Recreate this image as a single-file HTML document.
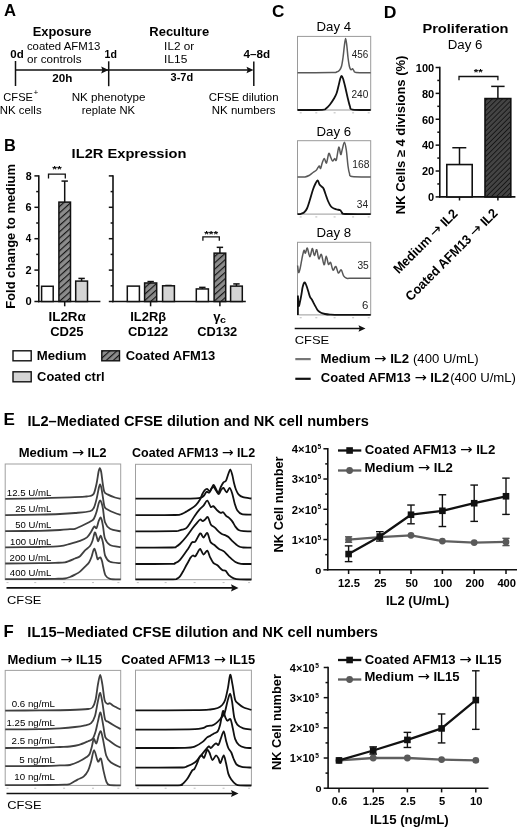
<!DOCTYPE html>
<html><head><meta charset="utf-8"><title>Figure</title>
<style>
html,body{margin:0;padding:0;background:#fff;}
svg{display:block;}
text{font-family:"Liberation Sans",Arial,Helvetica,sans-serif;}
</style></head>
<body>
<svg width="520" height="829" viewBox="0 0 520 829">
<rect x="0" y="0" width="520" height="829" fill="#fff"/>
<defs>
<pattern id="hB" patternUnits="userSpaceOnUse" width="4.7" height="4.7" patternTransform="rotate(48)">
<rect width="4.7" height="4.7" fill="#8c8c8c"/><line x1="0" y1="0" x2="0" y2="4.7" stroke="#151515" stroke-width="2.3"/></pattern>
<pattern id="hD" patternUnits="userSpaceOnUse" width="3.6" height="3.6" patternTransform="rotate(45)">
<rect width="3.6" height="3.6" fill="#444"/><line x1="0" y1="0" x2="0" y2="3.6" stroke="#0e0e0e" stroke-width="1.6"/></pattern>
</defs>
<text x="4.00" y="16.30" font-size="16" font-weight="bold" textLength="12.04" lengthAdjust="spacingAndGlyphs">A</text>
<text x="32.65" y="35.60" font-size="12.3" font-weight="bold" textLength="58.79" lengthAdjust="spacingAndGlyphs">Exposure</text>
<text x="26.92" y="50.00" font-size="11.3" textLength="73.47" lengthAdjust="spacingAndGlyphs">coated AFM13</text>
<text x="27.11" y="63.10" font-size="11.3" textLength="54.41" lengthAdjust="spacingAndGlyphs">or controls</text>
<text x="10.35" y="57.70" font-size="11" font-weight="bold" textLength="13.41" lengthAdjust="spacingAndGlyphs">0d</text>
<text x="104.54" y="57.50" font-size="11" font-weight="bold" textLength="12.36" lengthAdjust="spacingAndGlyphs">1d</text>
<text x="149.34" y="35.50" font-size="12.3" font-weight="bold" textLength="59.80" lengthAdjust="spacingAndGlyphs">Reculture</text>
<text x="164.12" y="49.60" font-size="11.3" textLength="30.07" lengthAdjust="spacingAndGlyphs">IL2 or</text>
<text x="164.10" y="62.80" font-size="11.3" textLength="23.19" lengthAdjust="spacingAndGlyphs">IL15</text>
<text x="243.53" y="57.50" font-size="11" font-weight="bold" textLength="26.55" lengthAdjust="spacingAndGlyphs">4–8d</text>
<text x="52.30" y="81.80" font-size="11" font-weight="bold" textLength="20.12" lengthAdjust="spacingAndGlyphs">20h</text>
<text x="170.56" y="80.60" font-size="11" font-weight="bold" textLength="22.57" lengthAdjust="spacingAndGlyphs">3-7d</text>
<text x="3.34" y="100.80" font-size="11.3" textLength="29.62" lengthAdjust="spacingAndGlyphs">CFSE</text>
<text x="33.41" y="95.00" font-size="7" textLength="4.80" lengthAdjust="spacingAndGlyphs">+</text>
<text x="-0.24" y="114.00" font-size="11.3" textLength="41.84" lengthAdjust="spacingAndGlyphs">NK cells</text>
<text x="71.65" y="100.80" font-size="11.3" textLength="73.77" lengthAdjust="spacingAndGlyphs">NK phenotype</text>
<text x="81.86" y="114.00" font-size="11.3" textLength="53.16" lengthAdjust="spacingAndGlyphs">replate NK</text>
<text x="208.73" y="100.50" font-size="11.3" textLength="69.80" lengthAdjust="spacingAndGlyphs">CFSE dilution</text>
<text x="211.76" y="113.90" font-size="11.3" textLength="63.85" lengthAdjust="spacingAndGlyphs">NK numbers</text>
<line x1="15.50" y1="70.00" x2="250.00" y2="70.00" stroke="#111" stroke-width="1.5"/>
<path d="M108.60,70.00 L101.20,66.60 L102.40,70.00 L101.20,73.40 Z" fill="#111"/>
<path d="M253.50,70.00 L246.50,66.70 L247.70,70.00 L246.50,73.30 Z" fill="#111"/>
<line x1="15.50" y1="61.00" x2="15.50" y2="86.00" stroke="#111" stroke-width="1.5"/>
<line x1="108.70" y1="61.30" x2="108.70" y2="86.20" stroke="#111" stroke-width="1.5"/>
<line x1="253.80" y1="61.50" x2="253.80" y2="86.00" stroke="#111" stroke-width="1.5"/>
<text x="3.92" y="151.30" font-size="16" font-weight="bold" textLength="11.82" lengthAdjust="spacingAndGlyphs">B</text>
<text x="71.63" y="158.30" font-size="12.5" font-weight="bold" textLength="114.88" lengthAdjust="spacingAndGlyphs">IL2R Expression</text>
<line x1="38.80" y1="175.20" x2="38.80" y2="302.20" stroke="#111" stroke-width="1.6"/>
<line x1="38.00" y1="301.50" x2="100.40" y2="301.50" stroke="#111" stroke-width="1.6"/>
<line x1="34.40" y1="301.50" x2="38.80" y2="301.50" stroke="#111" stroke-width="1.5"/>
<text x="25.57" y="305.10" font-size="10.4" font-weight="bold" textLength="6.18" lengthAdjust="spacingAndGlyphs">0</text>
<line x1="36.20" y1="285.80" x2="38.80" y2="285.80" stroke="#111" stroke-width="1.5"/>
<line x1="34.40" y1="270.10" x2="38.80" y2="270.10" stroke="#111" stroke-width="1.5"/>
<text x="25.63" y="273.70" font-size="10.4" font-weight="bold" textLength="6.10" lengthAdjust="spacingAndGlyphs">2</text>
<line x1="36.20" y1="254.40" x2="38.80" y2="254.40" stroke="#111" stroke-width="1.5"/>
<line x1="34.40" y1="238.70" x2="38.80" y2="238.70" stroke="#111" stroke-width="1.5"/>
<text x="25.85" y="242.30" font-size="10.4" font-weight="bold" textLength="5.50" lengthAdjust="spacingAndGlyphs">4</text>
<line x1="36.20" y1="223.00" x2="38.80" y2="223.00" stroke="#111" stroke-width="1.5"/>
<line x1="34.40" y1="207.30" x2="38.80" y2="207.30" stroke="#111" stroke-width="1.5"/>
<text x="25.61" y="210.90" font-size="10.4" font-weight="bold" textLength="6.08" lengthAdjust="spacingAndGlyphs">6</text>
<line x1="36.20" y1="191.60" x2="38.80" y2="191.60" stroke="#111" stroke-width="1.5"/>
<line x1="34.40" y1="175.90" x2="38.80" y2="175.90" stroke="#111" stroke-width="1.5"/>
<text x="25.67" y="179.50" font-size="10.4" font-weight="bold" textLength="5.95" lengthAdjust="spacingAndGlyphs">8</text>
<line x1="113.00" y1="175.20" x2="113.00" y2="302.20" stroke="#111" stroke-width="1.6"/>
<line x1="112.20" y1="301.50" x2="245.80" y2="301.50" stroke="#111" stroke-width="1.6"/>
<line x1="108.80" y1="301.50" x2="113.00" y2="301.50" stroke="#111" stroke-width="1.5"/>
<line x1="110.60" y1="285.80" x2="113.00" y2="285.80" stroke="#111" stroke-width="1.5"/>
<line x1="108.80" y1="270.10" x2="113.00" y2="270.10" stroke="#111" stroke-width="1.5"/>
<line x1="110.60" y1="254.40" x2="113.00" y2="254.40" stroke="#111" stroke-width="1.5"/>
<line x1="108.80" y1="238.70" x2="113.00" y2="238.70" stroke="#111" stroke-width="1.5"/>
<line x1="110.60" y1="223.00" x2="113.00" y2="223.00" stroke="#111" stroke-width="1.5"/>
<line x1="108.80" y1="207.30" x2="113.00" y2="207.30" stroke="#111" stroke-width="1.5"/>
<line x1="110.60" y1="191.60" x2="113.00" y2="191.60" stroke="#111" stroke-width="1.5"/>
<line x1="108.80" y1="175.90" x2="113.00" y2="175.90" stroke="#111" stroke-width="1.5"/>
<rect x="41.60" y="286.27" width="11.60" height="15.23" fill="#fff" stroke="#111" stroke-width="1.5"/>
<line x1="64.70" y1="202.12" x2="64.70" y2="181.08" stroke="#111" stroke-width="1.5"/>
<line x1="61.50" y1="181.08" x2="67.90" y2="181.08" stroke="#111" stroke-width="1.5"/>
<rect x="58.90" y="202.12" width="11.60" height="99.38" fill="url(#hB)" stroke="#111" stroke-width="1.5"/>
<line x1="81.60" y1="281.09" x2="81.60" y2="278.42" stroke="#111" stroke-width="1.5"/>
<line x1="78.40" y1="278.42" x2="84.80" y2="278.42" stroke="#111" stroke-width="1.5"/>
<rect x="75.70" y="281.09" width="11.80" height="20.41" fill="#d4d4d4" stroke="#111" stroke-width="1.5"/>
<rect x="127.30" y="286.11" width="12.10" height="15.39" fill="#fff" stroke="#111" stroke-width="1.5"/>
<line x1="150.65" y1="282.97" x2="150.65" y2="281.56" stroke="#111" stroke-width="1.5"/>
<line x1="147.45" y1="281.56" x2="153.85" y2="281.56" stroke="#111" stroke-width="1.5"/>
<rect x="144.60" y="282.97" width="12.10" height="18.53" fill="url(#hB)" stroke="#111" stroke-width="1.5"/>
<line x1="168.50" y1="285.80" x2="168.50" y2="285.49" stroke="#111" stroke-width="1.5"/>
<line x1="165.30" y1="285.49" x2="171.70" y2="285.49" stroke="#111" stroke-width="1.5"/>
<rect x="162.60" y="285.80" width="11.80" height="15.70" fill="#d4d4d4" stroke="#111" stroke-width="1.5"/>
<line x1="202.35" y1="288.94" x2="202.35" y2="287.37" stroke="#111" stroke-width="1.5"/>
<line x1="199.15" y1="287.37" x2="205.55" y2="287.37" stroke="#111" stroke-width="1.5"/>
<rect x="196.30" y="288.94" width="12.10" height="12.56" fill="#fff" stroke="#111" stroke-width="1.5"/>
<line x1="219.90" y1="253.14" x2="219.90" y2="247.34" stroke="#111" stroke-width="1.5"/>
<line x1="216.70" y1="247.34" x2="223.10" y2="247.34" stroke="#111" stroke-width="1.5"/>
<rect x="214.10" y="253.14" width="11.60" height="48.36" fill="url(#hB)" stroke="#111" stroke-width="1.5"/>
<line x1="236.45" y1="286.11" x2="236.45" y2="283.92" stroke="#111" stroke-width="1.5"/>
<line x1="233.25" y1="283.92" x2="239.65" y2="283.92" stroke="#111" stroke-width="1.5"/>
<rect x="230.60" y="286.11" width="11.70" height="15.39" fill="#d4d4d4" stroke="#111" stroke-width="1.5"/>
<line x1="64.70" y1="301.50" x2="64.70" y2="306.30" stroke="#111" stroke-width="1.5"/>
<line x1="150.60" y1="301.50" x2="150.60" y2="306.30" stroke="#111" stroke-width="1.5"/>
<line x1="219.90" y1="301.50" x2="219.90" y2="306.30" stroke="#111" stroke-width="1.5"/>
<path d="M48.5,178.6 L48.5,174.2 L65.3,174.2 L65.3,178.6" stroke="#111" stroke-width="1.3" fill="none"/>
<text x="52.23" y="172.00" font-size="9" font-weight="bold" textLength="9.53" lengthAdjust="spacingAndGlyphs">**</text>
<path d="M202.9,240.8 L202.9,236.9 L219.3,236.9 L219.3,240.8" stroke="#111" stroke-width="1.3" fill="none"/>
<text x="204.18" y="237.20" font-size="9" font-weight="bold" textLength="14.03" lengthAdjust="spacingAndGlyphs">***</text>
<text x="48.52" y="320.80" font-size="12.0" font-weight="bold" textLength="37.21" lengthAdjust="spacingAndGlyphs">IL2Rα</text>
<text x="50.16" y="336.20" font-size="12.0" font-weight="bold" textLength="33.38" lengthAdjust="spacingAndGlyphs">CD25</text>
<text x="130.25" y="320.80" font-size="12.0" font-weight="bold" textLength="35.88" lengthAdjust="spacingAndGlyphs">IL2Rβ</text>
<text x="127.97" y="336.20" font-size="12.0" font-weight="bold" textLength="40.23" lengthAdjust="spacingAndGlyphs">CD122</text>
<text x="213.26" y="320.80" font-size="12.0" font-weight="bold" textLength="7.28" lengthAdjust="spacingAndGlyphs">γ</text>
<text x="220.08" y="322.60" font-size="9.0" font-weight="bold" textLength="5.93" lengthAdjust="spacingAndGlyphs">c</text>
<text x="197.17" y="336.20" font-size="12.0" font-weight="bold" textLength="40.03" lengthAdjust="spacingAndGlyphs">CD132</text>
<g transform="translate(10.60,236.40) rotate(-90)"><text x="0" y="4.37" font-size="12.2" text-anchor="middle" font-weight="bold" textLength="144.50" lengthAdjust="spacingAndGlyphs">Fold change to medium</text></g>
<rect x="13.00" y="350.80" width="18.20" height="10.00" fill="#fff" stroke="#111" stroke-width="1.4"/>
<text x="36.73" y="360.00" font-size="12.2" font-weight="bold" textLength="49.67" lengthAdjust="spacingAndGlyphs">Medium</text>
<rect x="101.80" y="350.80" width="17.70" height="10.00" fill="url(#hB)" stroke="#111" stroke-width="1.4"/>
<text x="125.77" y="360.00" font-size="12.2" font-weight="bold" textLength="89.49" lengthAdjust="spacingAndGlyphs">Coated AFM13</text>
<rect x="13.00" y="371.80" width="18.20" height="10.00" fill="#d4d4d4" stroke="#111" stroke-width="1.4"/>
<text x="37.07" y="380.80" font-size="12.2" font-weight="bold" textLength="67.44" lengthAdjust="spacingAndGlyphs">Coated ctrl</text>
<text x="271.90" y="17.40" font-size="16" font-weight="bold" textLength="12.37" lengthAdjust="spacingAndGlyphs">C</text>
<text x="316.52" y="30.80" font-size="12.8" textLength="34.47" lengthAdjust="spacingAndGlyphs">Day 4</text>
<rect x="297.50" y="36.40" width="73.20" height="73.60" fill="none" stroke="#9a9a9a" stroke-width="1.0"/>
<rect x="299.70" y="112.20" width="2.00" height="1.20" fill="#c8c8c8" stroke="none" stroke-width="0"/>
<rect x="315.30" y="112.20" width="2.00" height="1.20" fill="#c8c8c8" stroke="none" stroke-width="0"/>
<rect x="333.60" y="112.20" width="2.00" height="1.20" fill="#c8c8c8" stroke="none" stroke-width="0"/>
<rect x="352.10" y="112.20" width="2.00" height="1.20" fill="#c8c8c8" stroke="none" stroke-width="0"/>
<rect x="367.70" y="112.20" width="2.00" height="1.20" fill="#c8c8c8" stroke="none" stroke-width="0"/>
<text x="351.78" y="57.70" font-size="10.6" fill="#222" textLength="16.55" lengthAdjust="spacingAndGlyphs">456</text>
<text x="351.50" y="97.50" font-size="10.6" fill="#222" textLength="16.79" lengthAdjust="spacingAndGlyphs">240</text>
<text x="316.51" y="135.90" font-size="12.8" textLength="34.66" lengthAdjust="spacingAndGlyphs">Day 6</text>
<rect x="297.50" y="140.70" width="73.20" height="73.40" fill="none" stroke="#9a9a9a" stroke-width="1.0"/>
<rect x="299.70" y="216.30" width="2.00" height="1.20" fill="#c8c8c8" stroke="none" stroke-width="0"/>
<rect x="315.30" y="216.30" width="2.00" height="1.20" fill="#c8c8c8" stroke="none" stroke-width="0"/>
<rect x="333.60" y="216.30" width="2.00" height="1.20" fill="#c8c8c8" stroke="none" stroke-width="0"/>
<rect x="352.10" y="216.30" width="2.00" height="1.20" fill="#c8c8c8" stroke="none" stroke-width="0"/>
<rect x="367.70" y="216.30" width="2.00" height="1.20" fill="#c8c8c8" stroke="none" stroke-width="0"/>
<text x="352.22" y="168.20" font-size="10.6" fill="#222" textLength="17.13" lengthAdjust="spacingAndGlyphs">168</text>
<text x="356.81" y="207.80" font-size="10.6" fill="#222" textLength="11.28" lengthAdjust="spacingAndGlyphs">34</text>
<text x="316.51" y="236.60" font-size="12.8" textLength="34.66" lengthAdjust="spacingAndGlyphs">Day 8</text>
<rect x="297.50" y="242.30" width="73.20" height="72.60" fill="none" stroke="#9a9a9a" stroke-width="1.0"/>
<rect x="299.70" y="317.10" width="2.00" height="1.20" fill="#c8c8c8" stroke="none" stroke-width="0"/>
<rect x="315.30" y="317.10" width="2.00" height="1.20" fill="#c8c8c8" stroke="none" stroke-width="0"/>
<rect x="333.60" y="317.10" width="2.00" height="1.20" fill="#c8c8c8" stroke="none" stroke-width="0"/>
<rect x="352.10" y="317.10" width="2.00" height="1.20" fill="#c8c8c8" stroke="none" stroke-width="0"/>
<rect x="367.70" y="317.10" width="2.00" height="1.20" fill="#c8c8c8" stroke="none" stroke-width="0"/>
<text x="357.41" y="269.00" font-size="10.6" fill="#222" textLength="11.41" lengthAdjust="spacingAndGlyphs">35</text>
<text x="361.93" y="308.60" font-size="10.6" fill="#222" textLength="6.37" lengthAdjust="spacingAndGlyphs">6</text>
<path d="M297.50,72.70 C303.25,72.68 325.50,72.72 332.00,72.60 C338.50,72.48 335.25,72.40 336.50,72.00 C337.75,71.60 338.65,71.20 339.50,70.20 C340.35,69.20 341.00,68.20 341.60,66.00 C342.20,63.80 342.63,60.42 343.10,57.00 C343.57,53.58 343.98,48.60 344.40,45.50 C344.82,42.40 345.20,38.40 345.60,38.40 C346.00,38.40 346.40,42.32 346.80,45.50 C347.20,48.68 347.58,54.08 348.00,57.50 C348.42,60.92 348.88,64.03 349.30,66.00 C349.72,67.97 350.12,68.72 350.50,69.30 C350.88,69.88 351.25,69.60 351.60,69.50 C351.95,69.40 352.23,68.52 352.60,68.70 C352.97,68.88 353.23,69.98 353.80,70.60 C354.37,71.22 353.18,72.05 356.00,72.40 C358.82,72.75 368.25,72.65 370.70,72.70" stroke="#585858" stroke-width="1.5" fill="none"/>
<path d="M297.50,110.00 C301.58,109.97 317.25,110.05 322.00,109.80 C326.75,109.55 324.67,109.38 326.00,108.50 C327.33,107.62 328.67,106.17 330.00,104.50 C331.33,102.83 332.92,100.33 334.00,98.50 C335.08,96.67 335.75,95.58 336.50,93.50 C337.25,91.42 337.87,88.50 338.50,86.00 C339.13,83.50 339.80,80.17 340.30,78.50 C340.80,76.83 341.05,76.00 341.50,76.00 C341.95,76.00 342.42,76.83 343.00,78.50 C343.58,80.17 344.25,82.92 345.00,86.00 C345.75,89.08 346.67,93.58 347.50,97.00 C348.33,100.42 349.17,104.40 350.00,106.50 C350.83,108.60 349.05,109.02 352.50,109.60 C355.95,110.18 367.67,109.93 370.70,110.00" stroke="#111" stroke-width="1.8" fill="none"/>
<path d="M297.50,177.10 C298.75,177.07 303.08,177.17 305.00,176.90 C306.92,176.63 307.67,176.23 309.00,175.50 C310.33,174.77 311.83,173.33 313.00,172.50 C314.17,171.67 315.17,171.33 316.00,170.50 C316.83,169.67 317.45,168.25 318.00,167.50 C318.55,166.75 318.87,165.83 319.30,166.00 C319.73,166.17 320.12,169.00 320.60,168.50 C321.08,168.00 321.58,164.67 322.20,163.00 C322.82,161.33 323.58,158.50 324.30,158.50 C325.02,158.50 325.75,163.83 326.50,163.00 C327.25,162.17 328.08,154.42 328.80,153.50 C329.52,152.58 330.17,156.25 330.80,157.50 C331.43,158.75 331.97,160.82 332.60,161.00 C333.23,161.18 333.98,158.77 334.60,158.60 C335.22,158.43 335.60,161.90 336.30,160.00 C337.00,158.10 338.07,148.12 338.80,147.20 C339.53,146.28 340.17,153.95 340.70,154.50 C341.23,155.05 341.38,152.53 342.00,150.50 C342.62,148.47 343.68,142.38 344.40,142.30 C345.12,142.22 345.70,146.05 346.30,150.00 C346.90,153.95 347.47,162.08 348.00,166.00 C348.53,169.92 348.83,171.73 349.50,173.50 C350.17,175.27 348.47,176.00 352.00,176.60 C355.53,177.20 367.58,177.02 370.70,177.10" stroke="#585858" stroke-width="1.5" fill="none"/>
<path d="M297.50,214.10 C298.08,214.05 299.92,214.07 301.00,213.80 C302.08,213.53 303.00,213.38 304.00,212.50 C305.00,211.62 306.00,210.67 307.00,208.50 C308.00,206.33 309.00,202.67 310.00,199.50 C311.00,196.33 312.08,192.17 313.00,189.50 C313.92,186.83 314.73,185.03 315.50,183.50 C316.27,181.97 316.93,180.13 317.60,180.30 C318.27,180.47 318.85,183.47 319.50,184.50 C320.15,185.53 320.83,185.83 321.50,186.50 C322.17,187.17 322.83,187.25 323.50,188.50 C324.17,189.75 324.75,191.92 325.50,194.00 C326.25,196.08 327.08,198.92 328.00,201.00 C328.92,203.08 330.00,205.25 331.00,206.50 C332.00,207.75 333.00,208.00 334.00,208.50 C335.00,209.00 335.97,209.20 337.00,209.50 C338.03,209.80 339.33,209.75 340.20,210.30 C341.07,210.85 341.40,212.18 342.20,212.80 C343.00,213.42 340.25,213.78 345.00,214.00 C349.75,214.22 366.42,214.08 370.70,214.10" stroke="#111" stroke-width="1.8" fill="none"/>
<path d="M297.60,265.50 C297.77,266.67 298.20,271.92 298.60,272.50 C299.00,273.08 299.52,270.88 300.00,269.00 C300.48,267.12 301.07,263.45 301.50,261.20 C301.93,258.95 302.18,257.32 302.60,255.50 C303.02,253.68 303.53,250.68 304.00,250.30 C304.47,249.92 304.85,253.55 305.40,253.20 C305.95,252.85 306.55,247.60 307.30,248.20 C308.05,248.80 309.07,256.75 309.90,256.80 C310.73,256.85 311.55,248.72 312.30,248.50 C313.05,248.28 313.67,255.30 314.40,255.50 C315.13,255.70 315.97,249.15 316.70,249.70 C317.43,250.25 318.02,258.00 318.80,258.80 C319.58,259.60 320.52,253.50 321.40,254.50 C322.28,255.50 323.30,264.52 324.10,264.80 C324.90,265.08 325.48,256.30 326.20,256.20 C326.92,256.10 327.67,263.15 328.40,264.20 C329.13,265.25 329.83,261.50 330.60,262.50 C331.37,263.50 332.13,269.53 333.00,270.20 C333.87,270.87 334.90,266.03 335.80,266.50 C336.70,266.97 337.50,272.45 338.40,273.00 C339.30,273.55 340.33,269.33 341.20,269.80 C342.07,270.27 342.70,274.40 343.60,275.80 C344.50,277.20 345.53,277.78 346.60,278.20 C347.67,278.62 345.98,278.28 350.00,278.30 C354.02,278.32 367.25,278.30 370.70,278.30" stroke="#585858" stroke-width="1.5" fill="none"/>
<path d="M297.9,314.9 L297.9,295.5 C298.03,297.22 298.35,304.75 298.70,305.80 C299.05,306.85 299.53,303.77 300.00,301.80 C300.47,299.83 301.07,296.42 301.50,294.00 C301.93,291.58 302.15,289.20 302.60,287.30 C303.05,285.40 303.70,283.22 304.20,282.60 C304.70,281.98 305.13,282.82 305.60,283.60 C306.07,284.38 306.52,285.88 307.00,287.30 C307.48,288.72 308.00,290.52 308.50,292.10 C309.00,293.68 309.42,295.52 310.00,296.80 C310.58,298.08 311.33,298.65 312.00,299.80 C312.67,300.95 313.33,302.43 314.00,303.70 C314.67,304.97 315.33,306.25 316.00,307.40 C316.67,308.55 317.17,309.70 318.00,310.60 C318.83,311.50 319.83,312.23 321.00,312.80 C322.17,313.37 323.50,313.70 325.00,314.00 C326.50,314.30 327.50,314.45 330.00,314.60 C332.50,314.75 333.22,314.85 340.00,314.90 C346.78,314.95 365.58,314.90 370.70,314.90" stroke="#111" stroke-width="1.8" fill="none"/>
<line x1="294.70" y1="328.50" x2="360.00" y2="328.50" stroke="#111" stroke-width="1.5"/>
<path d="M365.50,328.50 L358.50,325.20 L359.70,328.50 L358.50,331.80 Z" fill="#111"/>
<text x="294.65" y="343.80" font-size="11.8" textLength="34.59" lengthAdjust="spacingAndGlyphs">CFSE</text>
<line x1="295.30" y1="359.10" x2="310.70" y2="359.10" stroke="#777" stroke-width="2.2"/>
<text x="320.53" y="363.00" font-size="12.2" font-weight="bold" textLength="88.68" lengthAdjust="spacingAndGlyphs">Medium <tspan font-family="DejaVu Sans" font-weight="normal" font-size="13.66">→</tspan> IL2</text>
<text x="412.99" y="362.80" font-size="12.2" textLength="65.63" lengthAdjust="spacingAndGlyphs">(400 U/mL)</text>
<line x1="295.30" y1="378.80" x2="310.70" y2="378.80" stroke="#111" stroke-width="2.2"/>
<text x="320.87" y="382.40" font-size="12.2" font-weight="bold" textLength="128.34" lengthAdjust="spacingAndGlyphs">Coated AFM13 <tspan font-family="DejaVu Sans" font-weight="normal" font-size="13.66">→</tspan> IL2</text>
<text x="450.18" y="382.40" font-size="12.2" textLength="65.84" lengthAdjust="spacingAndGlyphs">(400 U/mL)</text>
<text x="383.74" y="18.00" font-size="16" font-weight="bold" textLength="12.68" lengthAdjust="spacingAndGlyphs">D</text>
<text x="422.44" y="33.00" font-size="13.7" font-weight="bold" textLength="86.07" lengthAdjust="spacingAndGlyphs">Proliferation</text>
<text x="447.81" y="48.80" font-size="12.0" textLength="34.66" lengthAdjust="spacingAndGlyphs">Day 6</text>
<line x1="439.80" y1="66.80" x2="439.80" y2="197.60" stroke="#111" stroke-width="1.6"/>
<line x1="439.00" y1="196.90" x2="515.40" y2="196.90" stroke="#111" stroke-width="1.6"/>
<line x1="435.60" y1="196.90" x2="439.80" y2="196.90" stroke="#111" stroke-width="1.5"/>
<text x="428.02" y="201.20" font-size="11.0" font-weight="bold">0</text>
<line x1="437.30" y1="183.96" x2="439.80" y2="183.96" stroke="#111" stroke-width="1.5"/>
<line x1="435.60" y1="171.02" x2="439.80" y2="171.02" stroke="#111" stroke-width="1.5"/>
<text x="421.91" y="175.32" font-size="11.0" font-weight="bold">20</text>
<line x1="437.30" y1="158.08" x2="439.80" y2="158.08" stroke="#111" stroke-width="1.5"/>
<line x1="435.60" y1="145.14" x2="439.80" y2="145.14" stroke="#111" stroke-width="1.5"/>
<text x="421.91" y="149.44" font-size="11.0" font-weight="bold">40</text>
<line x1="437.30" y1="132.20" x2="439.80" y2="132.20" stroke="#111" stroke-width="1.5"/>
<line x1="435.60" y1="119.26" x2="439.80" y2="119.26" stroke="#111" stroke-width="1.5"/>
<text x="421.91" y="123.56" font-size="11.0" font-weight="bold">60</text>
<line x1="437.30" y1="106.32" x2="439.80" y2="106.32" stroke="#111" stroke-width="1.5"/>
<line x1="435.60" y1="93.38" x2="439.80" y2="93.38" stroke="#111" stroke-width="1.5"/>
<text x="421.91" y="97.68" font-size="11.0" font-weight="bold">80</text>
<line x1="437.30" y1="80.44" x2="439.80" y2="80.44" stroke="#111" stroke-width="1.5"/>
<line x1="435.60" y1="67.50" x2="439.80" y2="67.50" stroke="#111" stroke-width="1.5"/>
<text x="415.79" y="71.80" font-size="11.0" font-weight="bold">100</text>
<line x1="459.50" y1="164.55" x2="459.50" y2="147.73" stroke="#111" stroke-width="1.5"/>
<line x1="452.30" y1="147.73" x2="466.30" y2="147.73" stroke="#111" stroke-width="1.5"/>
<rect x="446.80" y="164.55" width="25.40" height="32.35" fill="#fff" stroke="#111" stroke-width="1.6"/>
<line x1="497.90" y1="98.56" x2="497.90" y2="86.39" stroke="#111" stroke-width="1.5"/>
<line x1="491.20" y1="86.39" x2="504.60" y2="86.39" stroke="#111" stroke-width="1.5"/>
<rect x="485.00" y="98.56" width="25.80" height="98.34" fill="url(#hD)" stroke="#111" stroke-width="1.6"/>
<line x1="459.50" y1="196.90" x2="459.50" y2="200.50" stroke="#111" stroke-width="1.5"/>
<line x1="497.90" y1="196.90" x2="497.90" y2="200.50" stroke="#111" stroke-width="1.5"/>
<path d="M459,80.2 L459,76.5 L497.9,76.5 L497.9,80.2" stroke="#111" stroke-width="1.3" fill="none"/>
<text x="473.68" y="74.60" font-size="9" font-weight="bold" textLength="9.03" lengthAdjust="spacingAndGlyphs">**</text>
<g transform="translate(400.60,134.90) rotate(-90)"><text x="0" y="4.58" font-size="12.8" text-anchor="middle" font-weight="bold" textLength="158.50" lengthAdjust="spacingAndGlyphs">NK Cells ≥ 4 divisions (%)</text></g>
<g transform="translate(458.5,214.5) rotate(-45)"><text x="0" y="0" font-size="13.2" font-weight="bold" text-anchor="end" textLength="84.67" lengthAdjust="spacingAndGlyphs">Medium <tspan font-family="DejaVu Sans" font-weight="normal" font-size="14.78">→</tspan> IL2</text></g>
<g transform="translate(498.5,214.0) rotate(-45)"><text x="0" y="0" font-size="13.2" font-weight="bold" text-anchor="end" textLength="124.13" lengthAdjust="spacingAndGlyphs">Coated AFM13 <tspan font-family="DejaVu Sans" font-weight="normal" font-size="14.78">→</tspan> IL2</text></g>
<text x="3.57" y="425.30" font-size="16.6" font-weight="bold" textLength="11.39" lengthAdjust="spacingAndGlyphs">E</text>
<text x="27.44" y="426.10" font-size="14.2" font-weight="bold" textLength="341.35" lengthAdjust="spacingAndGlyphs">IL2–Mediated CFSE dilution and NK cell numbers</text>
<text x="18.74" y="457.00" font-size="12.0" font-weight="bold" textLength="87.67" lengthAdjust="spacingAndGlyphs">Medium <tspan font-family="DejaVu Sans" font-weight="normal" font-size="13.44">→</tspan> IL2</text>
<text x="132.09" y="457.00" font-size="12.0" font-weight="bold" textLength="122.99" lengthAdjust="spacingAndGlyphs">Coated AFM13 <tspan font-family="DejaVu Sans" font-weight="normal" font-size="13.44">→</tspan> IL2</text>
<rect x="5.20" y="464.00" width="115.50" height="115.70" fill="none" stroke="#a0a0a0" stroke-width="1.0"/>
<rect x="6.51" y="582.00" width="2.00" height="1.10" fill="#c8c8c8" stroke="none" stroke-width="0"/>
<rect x="34.23" y="582.00" width="2.00" height="1.10" fill="#c8c8c8" stroke="none" stroke-width="0"/>
<rect x="63.11" y="582.00" width="2.00" height="1.10" fill="#c8c8c8" stroke="none" stroke-width="0"/>
<rect x="91.98" y="582.00" width="2.00" height="1.10" fill="#c8c8c8" stroke="none" stroke-width="0"/>
<rect x="117.39" y="582.00" width="2.00" height="1.10" fill="#c8c8c8" stroke="none" stroke-width="0"/>
<rect x="135.50" y="464.30" width="115.90" height="115.40" fill="none" stroke="#a0a0a0" stroke-width="1.0"/>
<rect x="136.82" y="582.00" width="2.00" height="1.10" fill="#c8c8c8" stroke="none" stroke-width="0"/>
<rect x="164.63" y="582.00" width="2.00" height="1.10" fill="#c8c8c8" stroke="none" stroke-width="0"/>
<rect x="193.61" y="582.00" width="2.00" height="1.10" fill="#c8c8c8" stroke="none" stroke-width="0"/>
<rect x="222.58" y="582.00" width="2.00" height="1.10" fill="#c8c8c8" stroke="none" stroke-width="0"/>
<rect x="248.08" y="582.00" width="2.00" height="1.10" fill="#c8c8c8" stroke="none" stroke-width="0"/>
<text x="6.76" y="495.90" font-size="9.4" fill="#000" textLength="44.66" lengthAdjust="spacingAndGlyphs">12.5 U/mL</text>
<text x="15.22" y="511.90" font-size="9.4" fill="#000" textLength="36.20" lengthAdjust="spacingAndGlyphs">25 U/mL</text>
<text x="15.32" y="528.30" font-size="9.4" fill="#000" textLength="36.10" lengthAdjust="spacingAndGlyphs">50 U/mL</text>
<text x="10.08" y="544.70" font-size="9.4" fill="#000" textLength="41.34" lengthAdjust="spacingAndGlyphs">100 U/mL</text>
<text x="9.62" y="560.70" font-size="9.4" fill="#000" textLength="41.80" lengthAdjust="spacingAndGlyphs">200 U/mL</text>
<text x="9.89" y="575.60" font-size="9.4" fill="#000" textLength="41.53" lengthAdjust="spacingAndGlyphs">400 U/mL</text>
<path d="M5.20,498.90 C10.42,498.81 30.28,498.54 40.00,498.30 C49.72,498.06 63.25,497.56 70.00,497.30 C76.75,497.05 82.00,496.80 85.00,496.60 C88.00,496.41 88.69,496.44 90.00,496.00 C91.31,495.56 92.78,495.50 93.75,493.70 C94.72,491.90 95.79,487.25 96.50,484.00 C97.21,480.75 98.01,474.38 98.50,472.00 C98.99,469.62 99.34,468.10 99.75,468.10 C100.16,468.10 100.74,469.62 101.20,472.00 C101.66,474.38 102.32,481.01 102.80,484.00 C103.28,486.99 103.70,490.34 104.40,491.90 C105.11,493.46 105.91,493.56 107.50,494.40 C109.09,495.24 113.02,496.85 115.00,497.50 C116.98,498.15 119.84,498.56 120.70,498.75" stroke="#404040" stroke-width="1.8" fill="none" stroke-linejoin="round"/>
<path d="M5.20,515.10 C10.42,515.02 31.78,514.76 40.00,514.60 C48.22,514.44 54.75,514.24 60.00,514.00 C65.25,513.76 70.50,513.41 75.00,513.00 C79.50,512.59 87.15,512.08 90.00,511.25 C92.85,510.43 92.98,509.49 94.00,507.50 C95.02,505.51 96.08,500.93 96.80,498.00 C97.52,495.07 98.32,490.04 98.80,488.00 C99.28,485.96 99.61,484.40 100.00,484.40 C100.39,484.40 100.95,485.96 101.40,488.00 C101.85,490.04 102.52,495.17 103.00,498.00 C103.48,500.83 103.92,505.17 104.60,506.90 C105.27,508.62 105.94,508.58 107.50,509.50 C109.06,510.42 113.02,512.21 115.00,513.00 C116.98,513.79 119.84,514.53 120.70,514.80" stroke="#404040" stroke-width="1.8" fill="none" stroke-linejoin="round"/>
<path d="M5.20,531.20 C10.42,531.14 31.78,530.98 40.00,530.80 C48.22,530.62 55.50,530.24 60.00,530.00 C64.50,529.76 67.75,529.38 70.00,529.20 C72.25,529.02 72.75,529.53 75.00,528.80 C77.25,528.06 82.45,525.54 85.00,524.30 C87.55,523.05 90.65,521.37 92.00,520.50 C93.35,519.63 93.33,519.77 94.00,518.50 C94.67,517.23 95.78,514.33 96.50,512.00 C97.22,509.68 98.24,504.74 98.80,503.00 C99.36,501.26 99.78,500.40 100.20,500.40 C100.62,500.40 101.18,501.71 101.60,503.00 C102.02,504.29 102.49,506.12 103.00,509.00 C103.51,511.88 103.95,519.25 105.00,522.20 C106.05,525.16 107.64,527.32 110.00,528.70 C112.36,530.08 119.09,531.00 120.70,531.40" stroke="#404040" stroke-width="1.8" fill="none" stroke-linejoin="round"/>
<path d="M5.20,547.40 C10.42,547.34 31.78,547.18 40.00,547.00 C48.22,546.82 55.50,546.68 60.00,546.20 C64.50,545.72 67.00,544.61 70.00,543.80 C73.00,542.99 77.45,541.76 80.00,540.80 C82.55,539.84 85.35,538.72 87.00,537.40 C88.65,536.08 89.91,533.63 91.00,532.00 C92.09,530.37 93.47,527.07 94.30,526.50 C95.12,525.93 95.84,529.03 96.50,528.20 C97.16,527.38 98.09,522.63 98.70,521.00 C99.31,519.37 100.10,517.30 100.60,517.30 C101.09,517.30 101.61,519.46 102.00,521.00 C102.39,522.54 102.75,524.98 103.20,527.60 C103.65,530.23 103.98,535.89 105.00,538.50 C106.02,541.11 107.64,543.69 110.00,545.00 C112.36,546.31 119.09,546.87 120.70,547.20" stroke="#404040" stroke-width="1.8" fill="none" stroke-linejoin="round"/>
<path d="M5.20,563.50 C10.42,563.44 32.53,563.21 40.00,563.10 C47.47,563.00 51.25,562.92 55.00,562.80 C58.75,562.68 62.00,562.94 65.00,562.30 C68.00,561.65 72.75,559.41 75.00,558.50 C77.25,557.59 78.50,557.42 80.00,556.20 C81.50,554.99 83.50,551.93 85.00,550.40 C86.50,548.87 88.88,547.46 90.00,546.00 C91.12,544.54 91.78,542.73 92.50,540.70 C93.22,538.68 94.19,533.13 94.80,532.50 C95.41,531.87 96.12,535.19 96.60,536.50 C97.08,537.81 97.56,540.98 98.00,541.20 C98.44,541.43 99.08,538.81 99.50,538.00 C99.92,537.19 100.39,535.57 100.80,535.80 C101.20,536.02 101.81,538.12 102.20,539.50 C102.59,540.88 102.95,542.54 103.40,545.00 C103.85,547.46 104.21,553.38 105.20,555.90 C106.19,558.42 107.67,560.70 110.00,561.80 C112.33,562.89 119.09,562.99 120.70,563.20" stroke="#404040" stroke-width="1.8" fill="none" stroke-linejoin="round"/>
<path d="M5.20,579.20 C10.42,579.17 32.53,579.06 40.00,579.00 C47.47,578.94 51.25,578.88 55.00,578.80 C58.75,578.72 62.75,578.77 65.00,578.50 C67.25,578.23 68.50,577.59 70.00,577.00 C71.50,576.41 73.50,575.41 75.00,574.60 C76.50,573.79 78.50,572.78 80.00,571.60 C81.50,570.42 83.65,568.08 85.00,566.70 C86.35,565.32 88.03,563.86 89.00,562.40 C89.97,560.94 90.87,558.71 91.50,557.00 C92.13,555.29 92.75,552.23 93.20,551.00 C93.65,549.77 94.08,548.50 94.50,548.80 C94.92,549.10 95.55,551.46 96.00,553.00 C96.45,554.54 97.05,558.35 97.50,559.10 C97.95,559.85 98.55,558.24 99.00,558.00 C99.45,557.76 100.05,557.05 100.50,557.50 C100.95,557.95 101.59,559.62 102.00,561.00 C102.41,562.38 102.67,564.54 103.20,566.70 C103.73,568.86 104.48,573.59 105.50,575.40 C106.52,577.21 107.72,578.20 110.00,578.80 C112.28,579.40 119.09,579.31 120.70,579.40" stroke="#404040" stroke-width="1.8" fill="none" stroke-linejoin="round"/>
<path d="M135.50,498.60 C142.18,498.60 170.93,498.63 180.00,498.60 C189.07,498.57 192.85,498.55 196.00,498.40 C199.15,498.25 199.80,498.04 201.00,497.60 C202.20,497.17 203.16,496.37 204.00,495.50 C204.84,494.63 205.81,492.24 206.60,491.80 C207.39,491.37 208.52,493.17 209.30,492.60 C210.08,492.03 211.16,489.14 211.80,488.00 C212.45,486.86 212.97,484.85 213.60,485.00 C214.23,485.15 215.29,487.83 216.00,489.00 C216.71,490.17 217.58,493.10 218.30,492.80 C219.02,492.50 220.05,488.53 220.80,487.00 C221.55,485.47 222.52,483.56 223.30,482.60 C224.08,481.64 225.25,481.89 226.00,480.60 C226.75,479.31 227.66,475.67 228.30,474.00 C228.95,472.33 229.70,469.35 230.30,469.50 C230.90,469.65 231.75,472.98 232.30,475.00 C232.86,477.02 233.46,480.82 234.00,483.00 C234.54,485.18 235.22,487.81 235.90,489.50 C236.58,491.19 237.44,493.15 238.50,494.30 C239.56,495.45 241.06,496.57 243.00,497.20 C244.94,497.83 250.14,498.31 251.40,498.50" stroke="#111" stroke-width="1.8" fill="none" stroke-linejoin="round"/>
<path d="M135.50,515.20 C141.43,515.17 168.03,515.21 175.00,515.00 C181.97,514.79 180.31,514.31 182.00,513.80 C183.69,513.29 184.95,512.35 186.30,511.60 C187.65,510.85 189.53,509.82 191.00,508.80 C192.47,507.78 194.75,506.19 196.10,504.80 C197.45,503.41 199.06,501.12 200.00,499.50 C200.94,497.88 201.71,495.38 202.40,494.00 C203.09,492.62 203.89,491.08 204.60,490.30 C205.31,489.52 206.35,488.67 207.10,488.80 C207.85,488.94 208.89,491.29 209.60,491.20 C210.31,491.11 211.20,488.83 211.80,488.20 C212.40,487.57 212.94,486.61 213.60,487.00 C214.26,487.39 215.42,489.72 216.20,490.80 C216.98,491.88 218.05,494.35 218.80,494.20 C219.55,494.05 220.50,490.75 221.20,489.80 C221.90,488.86 222.69,487.52 223.50,487.90 C224.31,488.27 225.69,492.30 226.60,492.30 C227.51,492.30 228.76,487.72 229.60,487.90 C230.44,488.08 231.42,491.10 232.20,493.50 C232.98,495.90 234.02,501.33 234.80,503.90 C235.58,506.46 236.34,509.06 237.40,510.60 C238.47,512.14 239.80,513.60 241.90,514.20 C244.00,514.80 249.97,514.54 251.40,514.60" stroke="#111" stroke-width="1.8" fill="none" stroke-linejoin="round"/>
<path d="M135.50,531.30 C141.28,531.28 167.47,531.31 174.00,531.20 C180.53,531.10 177.72,530.84 179.00,530.60 C180.28,530.36 181.41,529.96 182.50,529.60 C183.59,529.24 185.10,529.27 186.30,528.20 C187.50,527.13 189.27,524.30 190.50,522.50 C191.73,520.70 193.16,518.12 194.50,516.20 C195.84,514.28 198.05,511.29 199.40,509.70 C200.75,508.11 202.31,506.95 203.50,505.60 C204.69,504.25 206.21,500.49 207.30,500.70 C208.40,500.91 209.90,506.19 210.80,507.00 C211.70,507.81 212.31,505.58 213.30,506.10 C214.29,506.62 216.29,509.50 217.40,510.50 C218.51,511.50 219.84,512.54 220.70,512.80 C221.55,513.05 222.25,511.69 223.10,512.20 C223.95,512.71 225.55,515.39 226.40,516.20 C227.25,517.01 227.95,516.87 228.80,517.60 C229.66,518.34 231.11,519.75 232.10,521.10 C233.09,522.45 234.43,525.26 235.40,526.60 C236.38,527.94 237.38,529.31 238.60,530.00 C239.81,530.69 241.58,531.01 243.50,531.20 C245.42,531.39 250.22,531.28 251.40,531.30" stroke="#111" stroke-width="1.8" fill="none" stroke-linejoin="round"/>
<path d="M135.50,547.60 C140.97,547.59 165.93,547.62 172.00,547.50 C178.07,547.38 174.83,547.32 176.00,546.80 C177.17,546.27 178.25,545.51 179.80,544.00 C181.35,542.49 184.34,539.14 186.30,536.70 C188.27,534.26 191.30,529.79 192.90,527.70 C194.50,525.62 195.91,524.03 197.00,522.80 C198.09,521.57 199.34,519.75 200.20,519.50 C201.05,519.25 201.96,521.10 202.70,521.10 C203.44,521.10 204.32,520.10 205.10,519.50 C205.88,518.90 207.05,516.37 207.90,517.10 C208.75,517.84 209.75,522.81 210.80,524.40 C211.85,525.99 213.67,526.59 214.90,527.70 C216.13,528.81 217.89,530.82 219.00,531.80 C220.11,532.77 221.31,533.66 222.30,534.20 C223.29,534.74 224.67,534.98 225.60,535.40 C226.53,535.82 227.53,536.19 228.50,537.00 C229.47,537.81 230.59,539.40 232.10,540.80 C233.61,542.19 236.97,545.29 238.60,546.30 C240.23,547.30 241.08,547.30 243.00,547.50 C244.92,547.70 250.14,547.59 251.40,547.60" stroke="#111" stroke-width="1.8" fill="none" stroke-linejoin="round"/>
<path d="M135.50,564.00 C140.82,563.99 165.07,564.02 171.00,563.90 C176.93,563.78 173.68,563.75 175.00,563.20 C176.32,562.65 177.85,562.35 179.80,560.20 C181.75,558.06 186.17,551.57 188.00,548.90 C189.83,546.23 190.91,543.50 192.00,542.40 C193.09,541.30 194.07,542.95 195.30,541.60 C196.53,540.25 198.97,534.01 200.20,533.40 C201.43,532.78 202.44,537.58 203.50,537.50 C204.56,537.42 206.25,532.23 207.30,532.90 C208.35,533.57 209.48,540.22 210.50,542.00 C211.52,543.78 212.82,543.76 214.10,544.80 C215.38,545.83 217.53,547.91 219.00,548.90 C220.47,549.89 222.43,550.29 223.90,551.40 C225.37,552.51 227.08,554.71 228.80,556.30 C230.53,557.89 233.57,560.88 235.40,562.00 C237.23,563.12 238.60,563.50 241.00,563.80 C243.40,564.10 249.84,563.97 251.40,564.00" stroke="#111" stroke-width="1.8" fill="none" stroke-linejoin="round"/>
<path d="M135.50,579.40 C141.12,579.38 166.78,579.42 173.00,579.30 C179.22,579.18 175.95,579.03 177.00,578.60 C178.05,578.17 179.10,577.47 180.00,576.40 C180.90,575.33 182.06,573.16 183.00,571.50 C183.94,569.84 185.40,566.95 186.30,565.30 C187.20,563.65 188.38,561.61 189.00,560.50 C189.62,559.39 189.81,558.65 190.40,557.90 C190.99,557.15 192.16,555.74 192.90,555.50 C193.64,555.26 194.56,556.79 195.30,556.30 C196.04,555.80 197.07,553.31 197.80,552.20 C198.53,551.09 199.34,548.54 200.20,548.90 C201.05,549.26 202.44,554.35 203.50,554.60 C204.56,554.86 206.33,550.23 207.30,550.60 C208.28,550.98 209.10,555.27 210.00,557.10 C210.90,558.93 212.19,561.57 213.30,562.80 C214.41,564.03 216.05,564.22 217.40,565.30 C218.75,566.38 221.07,569.17 222.30,570.00 C223.53,570.83 224.62,570.03 225.60,570.80 C226.57,571.56 227.59,573.98 228.80,575.10 C230.02,576.23 232.02,577.65 233.70,578.30 C235.38,578.94 237.34,579.22 240.00,579.40 C242.66,579.58 249.69,579.49 251.40,579.50" stroke="#111" stroke-width="1.8" fill="none" stroke-linejoin="round"/>
<line x1="6.50" y1="587.90" x2="232.00" y2="587.90" stroke="#111" stroke-width="1.6"/>
<path d="M238.50,587.90 L231.00,584.30 L232.20,587.90 L231.00,591.50 Z" fill="#111"/>
<text x="6.96" y="604.30" font-size="11.8" textLength="34.39" lengthAdjust="spacingAndGlyphs">CFSE</text>
<text x="3.60" y="636.70" font-size="16.6" font-weight="bold" textLength="10.20" lengthAdjust="spacingAndGlyphs">F</text>
<text x="27.33" y="636.80" font-size="14.2" font-weight="bold" textLength="350.56" lengthAdjust="spacingAndGlyphs">IL15–Mediated CFSE dilution and NK cell numbers</text>
<text x="7.54" y="664.20" font-size="12.0" font-weight="bold" textLength="94.51" lengthAdjust="spacingAndGlyphs">Medium <tspan font-family="DejaVu Sans" font-weight="normal" font-size="13.44">→</tspan> IL15</text>
<text x="121.27" y="663.80" font-size="12.0" font-weight="bold" textLength="133.87" lengthAdjust="spacingAndGlyphs">Coated AFM13 <tspan font-family="DejaVu Sans" font-weight="normal" font-size="13.44">→</tspan> IL15</text>
<rect x="5.20" y="670.40" width="115.50" height="115.00" fill="none" stroke="#a0a0a0" stroke-width="1.0"/>
<rect x="6.51" y="787.70" width="2.00" height="1.10" fill="#c8c8c8" stroke="none" stroke-width="0"/>
<rect x="34.23" y="787.70" width="2.00" height="1.10" fill="#c8c8c8" stroke="none" stroke-width="0"/>
<rect x="63.11" y="787.70" width="2.00" height="1.10" fill="#c8c8c8" stroke="none" stroke-width="0"/>
<rect x="91.98" y="787.70" width="2.00" height="1.10" fill="#c8c8c8" stroke="none" stroke-width="0"/>
<rect x="117.39" y="787.70" width="2.00" height="1.10" fill="#c8c8c8" stroke="none" stroke-width="0"/>
<rect x="135.50" y="670.20" width="115.90" height="115.20" fill="none" stroke="#a0a0a0" stroke-width="1.0"/>
<rect x="136.82" y="787.70" width="2.00" height="1.10" fill="#c8c8c8" stroke="none" stroke-width="0"/>
<rect x="164.63" y="787.70" width="2.00" height="1.10" fill="#c8c8c8" stroke="none" stroke-width="0"/>
<rect x="193.61" y="787.70" width="2.00" height="1.10" fill="#c8c8c8" stroke="none" stroke-width="0"/>
<rect x="222.58" y="787.70" width="2.00" height="1.10" fill="#c8c8c8" stroke="none" stroke-width="0"/>
<rect x="248.08" y="787.70" width="2.00" height="1.10" fill="#c8c8c8" stroke="none" stroke-width="0"/>
<text x="11.72" y="707.30" font-size="9.4" fill="#000" textLength="43.20" lengthAdjust="spacingAndGlyphs">0.6 ng/mL</text>
<text x="6.46" y="725.60" font-size="9.4" fill="#000" textLength="48.46" lengthAdjust="spacingAndGlyphs">1.25 ng/mL</text>
<text x="11.61" y="744.20" font-size="9.4" fill="#000" textLength="43.31" lengthAdjust="spacingAndGlyphs">2.5 ng/mL</text>
<text x="19.20" y="762.80" font-size="9.4" fill="#000" textLength="35.72" lengthAdjust="spacingAndGlyphs">5 ng/mL</text>
<text x="14.36" y="780.40" font-size="9.4" fill="#000" textLength="40.56" lengthAdjust="spacingAndGlyphs">10 ng/mL</text>
<path d="M5.20,710.60 C10.42,710.57 30.28,710.49 40.00,710.40 C49.72,710.31 62.79,710.21 70.00,710.00 C77.22,709.79 84.71,709.42 88.10,709.00 C91.49,708.58 91.47,708.60 92.60,707.20 C93.72,705.81 94.80,703.09 95.60,699.70 C96.39,696.31 97.21,688.34 97.90,684.60 C98.59,680.87 99.53,674.80 100.20,674.80 C100.88,674.80 101.73,680.75 102.40,684.60 C103.08,688.46 103.94,697.61 104.70,700.50 C105.47,703.39 106.70,703.48 107.50,703.90 C108.30,704.32 109.07,702.98 110.00,703.30 C110.93,703.62 112.09,705.07 113.70,706.00 C115.31,706.93 119.65,708.98 120.70,709.50" stroke="#404040" stroke-width="1.8" fill="none" stroke-linejoin="round"/>
<path d="M5.20,729.40 C10.42,729.37 31.78,729.37 40.00,729.20 C48.22,729.04 54.75,728.63 60.00,728.30 C65.25,727.97 71.23,727.45 75.00,727.00 C78.77,726.55 82.69,725.88 85.10,725.30 C87.51,724.71 89.63,724.45 91.10,723.10 C92.57,721.75 93.88,719.58 94.90,716.30 C95.92,713.01 97.11,704.71 97.90,701.20 C98.70,697.69 99.53,692.67 100.20,692.90 C100.88,693.12 101.68,698.74 102.40,702.70 C103.12,706.66 104.20,716.46 105.00,719.30 C105.80,722.13 106.39,720.70 107.70,721.60 C109.01,722.50 111.75,724.17 113.70,725.30 C115.65,726.42 119.65,728.53 120.70,729.10" stroke="#404040" stroke-width="1.8" fill="none" stroke-linejoin="round"/>
<path d="M5.20,748.00 C10.42,747.97 31.78,747.95 40.00,747.80 C48.22,747.65 55.50,747.19 60.00,747.00 C64.50,746.81 67.15,746.82 70.00,746.50 C72.85,746.18 76.28,745.69 79.00,744.90 C81.72,744.11 86.06,742.10 88.10,741.20 C90.14,740.30 91.47,740.37 92.60,738.90 C93.72,737.43 94.80,734.00 95.60,731.40 C96.39,728.80 97.17,724.44 97.90,721.60 C98.64,718.76 99.70,711.95 100.50,712.50 C101.30,713.05 102.47,721.56 103.20,725.30 C103.94,729.03 104.38,735.01 105.40,737.40 C106.42,739.78 108.53,740.08 110.00,741.20 C111.47,742.33 113.59,743.92 115.20,744.90 C116.81,745.88 119.88,747.28 120.70,747.70" stroke="#404040" stroke-width="1.8" fill="none" stroke-linejoin="round"/>
<path d="M5.20,766.20 C10.42,766.17 31.78,766.12 40.00,766.00 C48.22,765.88 55.50,765.55 60.00,765.40 C64.50,765.25 67.15,765.59 70.00,765.00 C72.85,764.41 76.51,762.70 79.00,761.50 C81.49,760.30 85.01,758.12 86.60,757.00 C88.19,755.88 88.80,755.59 89.60,754.00 C90.39,752.41 91.27,748.66 91.90,746.40 C92.53,744.13 93.12,739.35 93.80,738.90 C94.47,738.45 95.65,743.99 96.40,743.40 C97.15,742.81 98.12,736.80 98.80,735.00 C99.47,733.20 100.24,730.59 100.90,731.40 C101.56,732.21 102.41,736.78 103.20,740.40 C104.00,744.01 105.08,752.22 106.20,755.50 C107.33,758.78 108.53,760.51 110.70,762.30 C112.88,764.08 119.20,766.63 120.70,767.40" stroke="#404040" stroke-width="1.8" fill="none" stroke-linejoin="round"/>
<path d="M5.20,785.20 C11.92,785.17 41.03,785.09 50.00,785.00 C58.97,784.91 62.00,784.75 65.00,784.60 C68.00,784.45 68.12,784.75 70.00,784.00 C71.88,783.25 75.46,780.71 77.50,779.60 C79.54,778.49 82.01,777.95 83.60,776.60 C85.19,775.25 86.97,772.87 88.10,770.60 C89.22,768.34 90.20,764.56 91.10,761.50 C92.00,758.44 93.08,750.20 94.10,750.20 C95.12,750.20 96.88,760.25 97.90,761.50 C98.92,762.75 100.06,757.13 100.90,758.50 C101.74,759.87 102.70,767.21 103.50,770.60 C104.30,773.99 105.34,778.96 106.20,781.10 C107.06,783.25 107.03,784.27 109.20,784.90 C111.38,785.53 118.98,785.24 120.70,785.30" stroke="#404040" stroke-width="1.8" fill="none" stroke-linejoin="round"/>
<path d="M135.50,710.30 C144.43,710.28 183.80,710.32 195.00,710.20 C206.20,710.08 206.79,709.83 210.20,709.50 C213.60,709.17 215.90,708.67 217.70,708.00 C219.50,707.33 221.07,706.25 222.20,705.00 C223.32,703.75 224.33,702.31 225.20,699.70 C226.07,697.09 227.25,691.34 228.00,687.60 C228.75,683.87 229.52,675.25 230.20,674.80 C230.88,674.35 231.76,680.87 232.50,684.60 C233.24,688.34 234.26,696.87 235.10,699.70 C235.94,702.54 236.87,702.38 238.10,703.50 C239.33,704.62 241.31,706.23 243.30,707.20 C245.30,708.18 250.19,709.58 251.40,710.00" stroke="#111" stroke-width="1.8" fill="none" stroke-linejoin="round"/>
<path d="M135.50,729.60 C144.44,729.52 184.36,729.62 195.10,729.10 C205.84,728.58 204.50,726.67 207.10,726.10 C209.69,725.53 211.03,725.75 212.40,725.30 C213.77,724.85 214.95,724.12 216.20,723.10 C217.44,722.08 219.45,719.97 220.70,718.50 C221.94,717.03 223.48,715.89 224.50,713.30 C225.52,710.70 226.66,704.14 227.50,701.20 C228.34,698.26 229.42,693.70 230.10,693.70 C230.78,693.70 231.37,697.59 232.00,701.20 C232.63,704.82 233.50,714.29 234.30,717.80 C235.10,721.31 235.95,723.02 237.30,724.60 C238.65,726.18 241.19,727.55 243.30,728.30 C245.42,729.05 250.19,729.40 251.40,729.60" stroke="#111" stroke-width="1.8" fill="none" stroke-linejoin="round"/>
<path d="M135.50,748.00 C142.93,747.97 176.06,748.04 185.00,747.80 C193.94,747.56 192.46,747.28 195.10,746.40 C197.74,745.51 200.80,743.25 202.60,741.90 C204.40,740.55 205.96,738.30 207.10,737.40 C208.24,736.50 209.18,736.47 210.20,735.90 C211.22,735.33 212.78,734.27 213.90,733.60 C215.03,732.93 216.78,732.64 217.70,731.40 C218.61,730.15 219.20,728.36 220.00,725.30 C220.80,722.24 222.22,712.25 223.00,711.00 C223.78,709.75 224.52,715.53 225.20,717.00 C225.88,718.47 226.70,720.45 227.50,720.80 C228.30,721.14 229.70,718.17 230.50,719.30 C231.30,720.42 232.11,725.36 232.80,728.30 C233.49,731.24 234.20,736.41 235.10,738.90 C236.00,741.39 237.33,743.58 238.80,744.90 C240.27,746.22 243.01,747.24 244.90,747.70 C246.79,748.17 250.43,747.96 251.40,748.00" stroke="#111" stroke-width="1.8" fill="none" stroke-linejoin="round"/>
<path d="M135.50,767.60 C142.18,767.59 172.20,767.73 180.00,767.50 C187.80,767.27 185.24,766.88 187.50,766.10 C189.76,765.32 193.28,763.66 195.10,762.30 C196.91,760.93 198.25,758.59 199.60,757.00 C200.95,755.41 202.73,753.29 204.10,751.70 C205.47,750.11 207.68,746.95 208.70,746.40 C209.72,745.85 210.12,748.23 210.90,748.00 C211.68,747.77 213.11,745.59 213.90,744.90 C214.69,744.21 215.51,743.40 216.20,743.40 C216.89,743.40 217.82,745.57 218.50,744.90 C219.18,744.23 219.92,740.92 220.70,738.90 C221.48,736.88 222.90,731.17 223.70,731.40 C224.50,731.62 225.31,737.91 226.00,740.40 C226.69,742.89 227.50,746.18 228.30,748.00 C229.10,749.82 230.52,750.92 231.30,752.50 C232.08,754.08 232.71,756.70 233.50,758.50 C234.29,760.30 235.35,763.25 236.60,764.50 C237.84,765.75 239.58,766.33 241.80,766.80 C244.02,767.26 249.96,767.48 251.40,767.60" stroke="#111" stroke-width="1.8" fill="none" stroke-linejoin="round"/>
<path d="M135.50,785.40 C141.88,785.38 171.10,785.42 178.00,785.30 C184.90,785.18 180.60,785.00 181.50,784.60 C182.40,784.20 183.10,783.50 184.00,782.60 C184.90,781.70 186.28,780.40 187.50,778.60 C188.72,776.80 191.08,772.02 192.10,770.60 C193.12,769.18 193.62,770.01 194.30,769.10 C194.98,768.19 195.81,766.32 196.60,764.50 C197.39,762.68 198.81,758.35 199.60,757.00 C200.39,755.65 201.22,755.38 201.90,755.50 C202.58,755.62 203.32,758.59 204.10,757.80 C204.88,757.00 206.31,751.00 207.10,750.20 C207.89,749.41 208.61,751.03 209.40,752.50 C210.19,753.97 211.43,759.55 212.40,760.00 C213.38,760.45 214.99,755.73 215.90,755.50 C216.81,755.27 217.82,757.38 218.50,758.50 C219.18,759.62 219.62,763.45 220.40,763.00 C221.18,762.55 222.86,755.50 223.70,755.50 C224.54,755.50 225.31,760.28 226.00,763.00 C226.69,765.72 227.50,771.11 228.30,773.60 C229.10,776.09 230.18,778.01 231.30,779.60 C232.43,781.19 234.50,783.33 235.80,784.20 C237.11,785.07 237.66,785.20 240.00,785.40 C242.34,785.60 249.69,785.49 251.40,785.50" stroke="#111" stroke-width="1.8" fill="none" stroke-linejoin="round"/>
<line x1="6.50" y1="793.50" x2="232.00" y2="793.50" stroke="#111" stroke-width="1.6"/>
<path d="M238.50,793.50 L231.00,789.90 L232.20,793.50 L231.00,797.10 Z" fill="#111"/>
<text x="7.16" y="808.80" font-size="11.8" textLength="34.39" lengthAdjust="spacingAndGlyphs">CFSE</text>
<line x1="327.80" y1="448.05" x2="327.80" y2="570.60" stroke="#111" stroke-width="1.6"/>
<line x1="327.00" y1="569.80" x2="517.00" y2="569.80" stroke="#111" stroke-width="1.6"/>
<line x1="323.40" y1="569.80" x2="327.80" y2="569.80" stroke="#111" stroke-width="1.5"/>
<line x1="325.20" y1="554.67" x2="327.80" y2="554.67" stroke="#111" stroke-width="1.5"/>
<line x1="323.40" y1="539.54" x2="327.80" y2="539.54" stroke="#111" stroke-width="1.5"/>
<line x1="325.20" y1="524.41" x2="327.80" y2="524.41" stroke="#111" stroke-width="1.5"/>
<line x1="323.40" y1="509.28" x2="327.80" y2="509.28" stroke="#111" stroke-width="1.5"/>
<line x1="325.20" y1="494.15" x2="327.80" y2="494.15" stroke="#111" stroke-width="1.5"/>
<line x1="323.40" y1="479.02" x2="327.80" y2="479.02" stroke="#111" stroke-width="1.5"/>
<line x1="325.20" y1="463.89" x2="327.80" y2="463.89" stroke="#111" stroke-width="1.5"/>
<line x1="323.40" y1="448.76" x2="327.80" y2="448.76" stroke="#111" stroke-width="1.5"/>
<text x="315.17" y="573.90" font-size="9.8" font-weight="bold" textLength="6.06" lengthAdjust="spacingAndGlyphs">0</text>
<text x="291.85" y="543.94" font-size="10.2" font-weight="bold" textLength="25.30" lengthAdjust="spacingAndGlyphs">1×10</text>
<text x="317.60" y="539.64" font-size="6.6" font-weight="bold" textLength="3.68" lengthAdjust="spacingAndGlyphs">5</text>
<text x="291.85" y="513.68" font-size="10.2" font-weight="bold" textLength="25.30" lengthAdjust="spacingAndGlyphs">2×10</text>
<text x="317.60" y="509.38" font-size="6.6" font-weight="bold" textLength="3.68" lengthAdjust="spacingAndGlyphs">5</text>
<text x="291.85" y="483.42" font-size="10.2" font-weight="bold" textLength="25.30" lengthAdjust="spacingAndGlyphs">3×10</text>
<text x="317.60" y="479.12" font-size="6.6" font-weight="bold" textLength="3.68" lengthAdjust="spacingAndGlyphs">5</text>
<text x="291.85" y="453.16" font-size="10.2" font-weight="bold" textLength="25.30" lengthAdjust="spacingAndGlyphs">4×10</text>
<text x="317.60" y="448.86" font-size="6.6" font-weight="bold" textLength="3.68" lengthAdjust="spacingAndGlyphs">5</text>
<line x1="348.60" y1="569.80" x2="348.60" y2="574.00" stroke="#111" stroke-width="1.5"/>
<line x1="379.80" y1="569.80" x2="379.80" y2="574.00" stroke="#111" stroke-width="1.5"/>
<line x1="411.00" y1="569.80" x2="411.00" y2="574.00" stroke="#111" stroke-width="1.5"/>
<line x1="442.40" y1="569.80" x2="442.40" y2="574.00" stroke="#111" stroke-width="1.5"/>
<line x1="474.20" y1="569.80" x2="474.20" y2="574.00" stroke="#111" stroke-width="1.5"/>
<line x1="506.00" y1="569.80" x2="506.00" y2="574.00" stroke="#111" stroke-width="1.5"/>
<text x="338.11" y="586.80" font-size="11.2" font-weight="bold">12.5</text>
<text x="374.13" y="586.80" font-size="11.2" font-weight="bold">25</text>
<text x="405.43" y="586.80" font-size="11.2" font-weight="bold">50</text>
<text x="433.54" y="586.80" font-size="11.2" font-weight="bold">100</text>
<text x="465.49" y="586.80" font-size="11.2" font-weight="bold">200</text>
<text x="497.40" y="586.80" font-size="11.2" font-weight="bold">400</text>
<text x="385.94" y="604.60" font-size="12.2" font-weight="bold" textLength="63.49" lengthAdjust="spacingAndGlyphs">IL2 (U/mL)</text>
<g transform="translate(278.80,504.40) rotate(-90)"><text x="0" y="4.37" font-size="12.2" text-anchor="middle" font-weight="bold" textLength="96.00" lengthAdjust="spacingAndGlyphs">NK Cell number</text></g>
<polyline points="348.60,539.54 379.80,537.12 411.00,535.30 442.40,541.05 474.20,542.57 506.00,541.96" fill="none" stroke="#5f5f5f" stroke-width="2.3" stroke-linejoin="round"/>
<line x1="348.60" y1="542.26" x2="348.60" y2="536.82" stroke="#555" stroke-width="1.4"/>
<line x1="345.00" y1="536.82" x2="352.20" y2="536.82" stroke="#555" stroke-width="1.4"/>
<line x1="345.00" y1="542.26" x2="352.20" y2="542.26" stroke="#555" stroke-width="1.4"/>
<circle cx="348.60" cy="539.54" r="3.4" fill="#5a5a5a"/>
<circle cx="379.80" cy="537.12" r="3.4" fill="#5a5a5a"/>
<circle cx="411.00" cy="535.30" r="3.4" fill="#5a5a5a"/>
<circle cx="442.40" cy="541.05" r="3.4" fill="#5a5a5a"/>
<circle cx="474.20" cy="542.57" r="3.4" fill="#5a5a5a"/>
<line x1="506.00" y1="545.59" x2="506.00" y2="538.33" stroke="#555" stroke-width="1.4"/>
<line x1="502.40" y1="538.33" x2="509.60" y2="538.33" stroke="#555" stroke-width="1.4"/>
<line x1="502.40" y1="545.59" x2="509.60" y2="545.59" stroke="#555" stroke-width="1.4"/>
<circle cx="506.00" cy="541.96" r="3.4" fill="#5a5a5a"/>
<polyline points="348.60,554.06 379.80,536.51 411.00,514.73 442.40,510.79 474.20,503.23 506.00,496.27" fill="none" stroke="#111" stroke-width="2.3" stroke-linejoin="round"/>
<line x1="348.60" y1="561.63" x2="348.60" y2="545.89" stroke="#111" stroke-width="1.4"/>
<line x1="344.80" y1="545.89" x2="352.40" y2="545.89" stroke="#111" stroke-width="1.4"/>
<line x1="344.80" y1="561.63" x2="352.40" y2="561.63" stroke="#111" stroke-width="1.4"/>
<rect x="345.30" y="550.76" width="6.60" height="6.60" fill="#111" stroke="none" stroke-width="0"/>
<line x1="379.80" y1="541.05" x2="379.80" y2="531.67" stroke="#111" stroke-width="1.4"/>
<line x1="376.00" y1="531.67" x2="383.60" y2="531.67" stroke="#111" stroke-width="1.4"/>
<line x1="376.00" y1="541.05" x2="383.60" y2="541.05" stroke="#111" stroke-width="1.4"/>
<rect x="376.50" y="533.21" width="6.60" height="6.60" fill="#111" stroke="none" stroke-width="0"/>
<line x1="411.00" y1="523.80" x2="411.00" y2="505.04" stroke="#111" stroke-width="1.4"/>
<line x1="407.20" y1="505.04" x2="414.80" y2="505.04" stroke="#111" stroke-width="1.4"/>
<line x1="407.20" y1="523.80" x2="414.80" y2="523.80" stroke="#111" stroke-width="1.4"/>
<rect x="407.70" y="511.43" width="6.60" height="6.60" fill="#111" stroke="none" stroke-width="0"/>
<line x1="442.40" y1="526.53" x2="442.40" y2="494.76" stroke="#111" stroke-width="1.4"/>
<line x1="438.60" y1="494.76" x2="446.20" y2="494.76" stroke="#111" stroke-width="1.4"/>
<line x1="438.60" y1="526.53" x2="446.20" y2="526.53" stroke="#111" stroke-width="1.4"/>
<rect x="439.10" y="507.49" width="6.60" height="6.60" fill="#111" stroke="none" stroke-width="0"/>
<line x1="474.20" y1="521.38" x2="474.20" y2="485.07" stroke="#111" stroke-width="1.4"/>
<line x1="470.40" y1="485.07" x2="478.00" y2="485.07" stroke="#111" stroke-width="1.4"/>
<line x1="470.40" y1="521.38" x2="478.00" y2="521.38" stroke="#111" stroke-width="1.4"/>
<rect x="470.90" y="499.93" width="6.60" height="6.60" fill="#111" stroke="none" stroke-width="0"/>
<line x1="506.00" y1="514.42" x2="506.00" y2="478.11" stroke="#111" stroke-width="1.4"/>
<line x1="502.20" y1="478.11" x2="509.80" y2="478.11" stroke="#111" stroke-width="1.4"/>
<line x1="502.20" y1="514.42" x2="509.80" y2="514.42" stroke="#111" stroke-width="1.4"/>
<rect x="502.70" y="492.97" width="6.60" height="6.60" fill="#111" stroke="none" stroke-width="0"/>
<line x1="338.00" y1="450.50" x2="361.30" y2="450.50" stroke="#111" stroke-width="2.3"/>
<rect x="346.30" y="447.20" width="6.60" height="6.60" fill="#111" stroke="none" stroke-width="0"/>
<text x="364.76" y="454.20" font-size="12.0" font-weight="bold" textLength="130.56" lengthAdjust="spacingAndGlyphs">Coated AFM13 <tspan font-family="DejaVu Sans" font-weight="normal" font-size="13.44">→</tspan> IL2</text>
<line x1="338.00" y1="470.50" x2="361.30" y2="470.50" stroke="#5f5f5f" stroke-width="2.3"/>
<circle cx="349.6" cy="470.50" r="3.4" fill="#5a5a5a"/>
<text x="364.43" y="472.40" font-size="12.0" font-weight="bold" textLength="88.38" lengthAdjust="spacingAndGlyphs">Medium <tspan font-family="DejaVu Sans" font-weight="normal" font-size="13.44">→</tspan> IL2</text>
<line x1="328.10" y1="666.80" x2="328.10" y2="789.00" stroke="#111" stroke-width="1.6"/>
<line x1="327.30" y1="788.20" x2="488.50" y2="788.20" stroke="#111" stroke-width="1.6"/>
<line x1="323.70" y1="788.20" x2="328.10" y2="788.20" stroke="#111" stroke-width="1.5"/>
<line x1="325.50" y1="773.11" x2="328.10" y2="773.11" stroke="#111" stroke-width="1.5"/>
<line x1="323.70" y1="758.02" x2="328.10" y2="758.02" stroke="#111" stroke-width="1.5"/>
<line x1="325.50" y1="742.93" x2="328.10" y2="742.93" stroke="#111" stroke-width="1.5"/>
<line x1="323.70" y1="727.84" x2="328.10" y2="727.84" stroke="#111" stroke-width="1.5"/>
<line x1="325.50" y1="712.75" x2="328.10" y2="712.75" stroke="#111" stroke-width="1.5"/>
<line x1="323.70" y1="697.66" x2="328.10" y2="697.66" stroke="#111" stroke-width="1.5"/>
<line x1="325.50" y1="682.57" x2="328.10" y2="682.57" stroke="#111" stroke-width="1.5"/>
<line x1="323.70" y1="667.48" x2="328.10" y2="667.48" stroke="#111" stroke-width="1.5"/>
<text x="315.47" y="792.30" font-size="9.8" font-weight="bold" textLength="6.06" lengthAdjust="spacingAndGlyphs">0</text>
<text x="289.88" y="762.42" font-size="10.2" font-weight="bold" textLength="24.87" lengthAdjust="spacingAndGlyphs">1×10</text>
<text x="315.20" y="758.12" font-size="6.6" font-weight="bold" textLength="3.68" lengthAdjust="spacingAndGlyphs">5</text>
<text x="289.88" y="732.24" font-size="10.2" font-weight="bold" textLength="24.87" lengthAdjust="spacingAndGlyphs">2×10</text>
<text x="315.20" y="727.94" font-size="6.6" font-weight="bold" textLength="3.68" lengthAdjust="spacingAndGlyphs">5</text>
<text x="289.88" y="702.06" font-size="10.2" font-weight="bold" textLength="24.87" lengthAdjust="spacingAndGlyphs">3×10</text>
<text x="315.20" y="697.76" font-size="6.6" font-weight="bold" textLength="3.68" lengthAdjust="spacingAndGlyphs">5</text>
<text x="289.88" y="671.88" font-size="10.2" font-weight="bold" textLength="24.87" lengthAdjust="spacingAndGlyphs">4×10</text>
<text x="315.20" y="667.58" font-size="6.6" font-weight="bold" textLength="3.68" lengthAdjust="spacingAndGlyphs">5</text>
<line x1="339.00" y1="788.20" x2="339.00" y2="792.40" stroke="#111" stroke-width="1.5"/>
<line x1="373.20" y1="788.20" x2="373.20" y2="792.40" stroke="#111" stroke-width="1.5"/>
<line x1="407.40" y1="788.20" x2="407.40" y2="792.40" stroke="#111" stroke-width="1.5"/>
<line x1="441.60" y1="788.20" x2="441.60" y2="792.40" stroke="#111" stroke-width="1.5"/>
<line x1="475.80" y1="788.20" x2="475.80" y2="792.40" stroke="#111" stroke-width="1.5"/>
<text x="331.79" y="804.60" font-size="11.2" font-weight="bold">0.6</text>
<text x="362.71" y="804.60" font-size="11.2" font-weight="bold">1.25</text>
<text x="400.18" y="804.60" font-size="11.2" font-weight="bold">2.5</text>
<text x="439.07" y="804.60" font-size="11.2" font-weight="bold">5</text>
<text x="470.05" y="804.60" font-size="11.2" font-weight="bold">10</text>
<text x="370.13" y="823.80" font-size="12.2" font-weight="bold" textLength="78.52" lengthAdjust="spacingAndGlyphs">IL15 (ng/mL)</text>
<g transform="translate(277.10,722.10) rotate(-90)"><text x="0" y="4.37" font-size="12.2" text-anchor="middle" font-weight="bold" textLength="96.00" lengthAdjust="spacingAndGlyphs">NK Cell number</text></g>
<polyline points="339.00,760.43 373.20,758.02 407.40,758.02 441.60,759.53 475.80,760.43" fill="none" stroke="#5f5f5f" stroke-width="2.3" stroke-linejoin="round"/>
<circle cx="339.00" cy="760.43" r="3.4" fill="#5a5a5a"/>
<circle cx="373.20" cy="758.02" r="3.4" fill="#5a5a5a"/>
<circle cx="407.40" cy="758.02" r="3.4" fill="#5a5a5a"/>
<circle cx="441.60" cy="759.53" r="3.4" fill="#5a5a5a"/>
<circle cx="475.80" cy="760.43" r="3.4" fill="#5a5a5a"/>
<polyline points="339.00,760.43 373.20,750.48 407.40,739.91 441.60,728.44 475.80,700.07" fill="none" stroke="#111" stroke-width="2.3" stroke-linejoin="round"/>
<rect x="335.70" y="757.13" width="6.60" height="6.60" fill="#111" stroke="none" stroke-width="0"/>
<line x1="373.20" y1="754.10" x2="373.20" y2="746.85" stroke="#111" stroke-width="1.4"/>
<line x1="369.40" y1="746.85" x2="377.00" y2="746.85" stroke="#111" stroke-width="1.4"/>
<line x1="369.40" y1="754.10" x2="377.00" y2="754.10" stroke="#111" stroke-width="1.4"/>
<rect x="369.90" y="747.18" width="6.60" height="6.60" fill="#111" stroke="none" stroke-width="0"/>
<line x1="407.40" y1="747.46" x2="407.40" y2="732.37" stroke="#111" stroke-width="1.4"/>
<line x1="403.60" y1="732.37" x2="411.20" y2="732.37" stroke="#111" stroke-width="1.4"/>
<line x1="403.60" y1="747.46" x2="411.20" y2="747.46" stroke="#111" stroke-width="1.4"/>
<rect x="404.10" y="736.61" width="6.60" height="6.60" fill="#111" stroke="none" stroke-width="0"/>
<line x1="441.60" y1="742.93" x2="441.60" y2="713.96" stroke="#111" stroke-width="1.4"/>
<line x1="437.80" y1="713.96" x2="445.40" y2="713.96" stroke="#111" stroke-width="1.4"/>
<line x1="437.80" y1="742.93" x2="445.40" y2="742.93" stroke="#111" stroke-width="1.4"/>
<rect x="438.30" y="725.14" width="6.60" height="6.60" fill="#111" stroke="none" stroke-width="0"/>
<line x1="475.80" y1="729.35" x2="475.80" y2="670.80" stroke="#111" stroke-width="1.4"/>
<line x1="472.00" y1="670.80" x2="479.60" y2="670.80" stroke="#111" stroke-width="1.4"/>
<line x1="472.00" y1="729.35" x2="479.60" y2="729.35" stroke="#111" stroke-width="1.4"/>
<rect x="472.50" y="696.77" width="6.60" height="6.60" fill="#111" stroke="none" stroke-width="0"/>
<line x1="338.00" y1="660.00" x2="361.30" y2="660.00" stroke="#111" stroke-width="2.3"/>
<rect x="346.30" y="656.70" width="6.60" height="6.60" fill="#111" stroke="none" stroke-width="0"/>
<text x="364.76" y="663.70" font-size="12.0" font-weight="bold" textLength="136.89" lengthAdjust="spacingAndGlyphs">Coated AFM13 <tspan font-family="DejaVu Sans" font-weight="normal" font-size="13.44">→</tspan> IL15</text>
<line x1="338.00" y1="679.50" x2="361.30" y2="679.50" stroke="#5f5f5f" stroke-width="2.3"/>
<circle cx="349.6" cy="679.50" r="3.4" fill="#5a5a5a"/>
<text x="364.44" y="681.40" font-size="12.0" font-weight="bold" textLength="95.22" lengthAdjust="spacingAndGlyphs">Medium <tspan font-family="DejaVu Sans" font-weight="normal" font-size="13.44">→</tspan> IL15</text>
</svg>
</body></html>
